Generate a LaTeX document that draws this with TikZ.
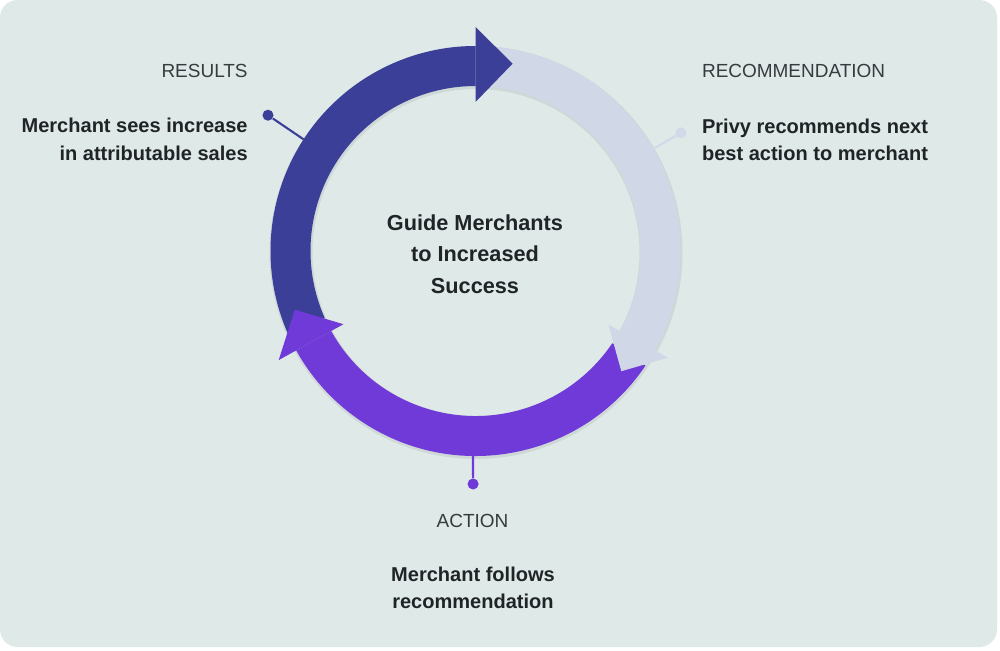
\documentclass[tikz,border=0pt]{standalone}
\usepackage{fontspec}
\setmainfont{Liberation Sans}
\definecolor{bg}{HTML}{DEE9E8}
\definecolor{darkarc}{HTML}{3C3F98}
\definecolor{lightarc}{HTML}{D0D7E6}
\definecolor{lightdot}{HTML}{D3D9E8}
\definecolor{purplearc}{HTML}{6F3AD8}
\definecolor{txt}{HTML}{202427}
\definecolor{lbl}{HTML}{383B3E}
\tikzset{
  lbltext/.style={font=\fontsize{10.8}{13}\selectfont, text=lbl, inner sep=0pt},
  bodytext/.style={font=\bfseries\fontsize{11.4}{14}\selectfont, text=txt, inner sep=0pt},
  centertext/.style={font=\bfseries\fontsize{12.35}{15}\selectfont, text=txt, inner sep=0pt},
  dotnode/.style={circle, inner sep=0pt, minimum size=6.3pt},
  conn/.style={line width=1.2pt}
}
\begin{document}
\begin{tikzpicture}[x=0.02cm,y=0.02cm]
\useasboundingbox (0,0) rectangle (1000,650);
\fill[bg, rounded corners=10] (0,3) rectangle (997,650);
\coordinate (C) at (475.5,399);
\begin{scope}[shift={(475.5,399)}]
  % soft shadow of the ring
  \fill[black, opacity=0.07, even odd rule] (0.5,-1.5) circle[radius=206.5] (0.5,-1.5) circle[radius=163.5];
  % arc bodies
  \fill[lightarc] (90:205) arc[start angle=90,end angle=-29,radius=205] -- (-29:165) arc[start angle=-29,end angle=90,radius=165] -- cycle;
  \fill[purplearc] (-34:205) arc[start angle=-34,end angle=-151,radius=205] -- (-151:165) arc[start angle=-151,end angle=-34,radius=165] -- cycle;
  \fill[darkarc] (204:205) arc[start angle=204,end angle=90,radius=205] -- (90:165) arc[start angle=90,end angle=204,radius=165] -- cycle;
  % arrow heads
  \fill[darkarc] (90:149) -- (90:224) -- (78.8:191) -- cycle;
  \fill[lightarc] (-29:152) -- (-29:220) -- (-39.5:189) -- cycle;
  \fill[purplearc] (-151:151) -- (-151:225) -- (-162:190) -- cycle;
  % connector ends on the ring
  \coordinate (rres) at (147:205);
  \coordinate (rrec) at (29.9:205);
  \coordinate (ract) at (269.3:204);
  % dots
  \node[dotnode, fill=darkarc] (dres) at (146.8:248) {};
  \node[dotnode, fill=lightdot] (drec) at (29.9:237) {};
  \node[dotnode, fill=purplearc] (dact) at (269.4:233) {};
\end{scope}
\draw[conn, darkarc] (rres) -- (dres);
\draw[conn, lightdot] (rrec) -- (drec);
\draw[conn, purplearc] (ract) -- (dact);

% center text
\node[centertext, anchor=base] (c1) at (475,419.3) {Guide Merchants};
\node[centertext, anchor=base] (c2) at (475,388.3) {to Increased};
\node[centertext, anchor=base] (c3) at (475,357) {Success};

% results
\node[lbltext, anchor=base east] (reslbl) at (248,572.3) {RESULTS};
\node[bodytext, anchor=base east] (res1) at (248,517.3) {Merchant sees increase};
\node[bodytext, anchor=base east] (res2) at (248,489.3) {in attributable sales};

% recommendation
\node[lbltext, anchor=base west] (reclbl) at (701.7,572.7) {RECOMMENDATION};
\node[bodytext, anchor=base west] (rec1) at (701.7,516.7) {Privy recommends next};
\node[bodytext, anchor=base west] (rec2) at (701.7,489.3) {best action to merchant};

% action
\node[lbltext, anchor=base] (actlbl) at (472.5,122.7) {ACTION};
\node[bodytext, anchor=base] (act1) at (473,68.3) {Merchant follows};
\node[bodytext, anchor=base] (act2) at (473,41.7) {recommendation};
\end{tikzpicture}
\end{document}
